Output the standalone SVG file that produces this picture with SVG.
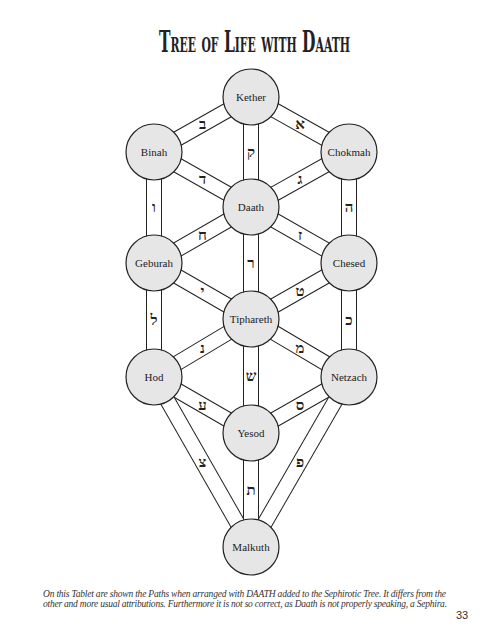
<svg xmlns="http://www.w3.org/2000/svg" xmlns:xlink="http://www.w3.org/1999/xlink" width="495" height="640" viewBox="0 0 495 640">
<style>
.o{stroke:#222;stroke-width:16;fill:none}
.f{stroke:#fff;stroke-width:14;fill:none}
.node circle{fill:#e6e6e6;stroke:#222;stroke-width:1.2}
.node text{font-family:"Liberation Serif","DejaVu Serif",serif;font-size:11px;fill:#222;text-anchor:middle}
.heb{font-family:"Liberation Serif","DejaVu Sans",serif;font-size:15px;font-weight:bold;fill:#222;text-anchor:middle}
.title{font-family:"DejaVu Serif Condensed","DejaVu Serif",serif;font-weight:bold;font-size:30px;font-variant:small-caps;fill:#222}
.note{font-family:"Liberation Serif","DejaVu Serif",serif;font-style:italic;font-size:9.5px;fill:#333}
.pg{font-family:"Liberation Sans","DejaVu Sans",sans-serif;font-size:11px;fill:#333}
</style>
<defs>
<line id="p1" x1="251" y1="97" x2="154" y2="152"/>
<line id="p2" x1="251" y1="97" x2="349" y2="152"/>
<line id="p3" x1="251" y1="97" x2="251" y2="207"/>
<line id="p4" x1="154" y1="152" x2="251" y2="207"/>
<line id="p5" x1="349" y1="152" x2="251" y2="207"/>
<line id="p6" x1="154" y1="152" x2="154" y2="263"/>
<line id="p7" x1="349" y1="152" x2="349" y2="263"/>
<line id="p8" x1="251" y1="207" x2="154" y2="263"/>
<line id="p9" x1="251" y1="207" x2="349" y2="263"/>
<line id="p10" x1="251" y1="207" x2="251" y2="319"/>
<line id="p11" x1="154" y1="263" x2="251" y2="319"/>
<line id="p12" x1="349" y1="263" x2="251" y2="319"/>
<line id="p13" x1="154" y1="263" x2="154" y2="377"/>
<line id="p14" x1="349" y1="263" x2="349" y2="377"/>
<line id="p15" x1="251" y1="319" x2="154" y2="377"/>
<line id="p16" x1="251" y1="319" x2="349" y2="377"/>
<line id="p17" x1="251" y1="319" x2="251" y2="433"/>
<line id="p18" x1="154" y1="377" x2="251" y2="433"/>
<line id="p19" x1="349" y1="377" x2="251" y2="433"/>
<line id="p20" x1="154" y1="377" x2="251" y2="547"/>
<line id="p21" x1="349" y1="377" x2="251" y2="547"/>
<line id="p22" x1="251" y1="433" x2="251" y2="547"/>
</defs>
<rect width="495" height="640" fill="#fff"/>
<text class="title" x="159" y="52" textLength="191" lengthAdjust="spacingAndGlyphs">Tree of Life with Daath</text>
<g id="connectors">
<g class="o">
<use xlink:href="#p1"/><use xlink:href="#p2"/><use xlink:href="#p3"/><use xlink:href="#p4"/><use xlink:href="#p5"/><use xlink:href="#p6"/><use xlink:href="#p7"/><use xlink:href="#p8"/><use xlink:href="#p9"/><use xlink:href="#p10"/><use xlink:href="#p11"/><use xlink:href="#p12"/><use xlink:href="#p13"/><use xlink:href="#p14"/><use xlink:href="#p15"/><use xlink:href="#p16"/><use xlink:href="#p17"/><use xlink:href="#p18"/><use xlink:href="#p19"/><use xlink:href="#p20"/><use xlink:href="#p21"/><use xlink:href="#p22"/>
</g>
<g class="f">
<use xlink:href="#p1"/><use xlink:href="#p2"/><use xlink:href="#p3"/><use xlink:href="#p4"/><use xlink:href="#p5"/><use xlink:href="#p6"/><use xlink:href="#p7"/><use xlink:href="#p8"/><use xlink:href="#p9"/><use xlink:href="#p10"/><use xlink:href="#p11"/><use xlink:href="#p12"/><use xlink:href="#p13"/><use xlink:href="#p14"/><use xlink:href="#p15"/><use xlink:href="#p16"/><use xlink:href="#p17"/><use xlink:href="#p18"/><use xlink:href="#p19"/><use xlink:href="#p20"/><use xlink:href="#p21"/><use xlink:href="#p22"/>
</g>
<g id="path-letters">
<text class="heb" x="202.5" y="129">ב</text>
<text class="heb" x="300" y="129">א</text>
<text class="heb" x="251" y="157">ק</text>
<text class="heb" x="202.5" y="184">ד</text>
<text class="heb" x="300" y="184">ג</text>
<text class="heb" x="154" y="212">ו</text>
<text class="heb" x="349" y="212">ה</text>
<text class="heb" x="202.5" y="240">ח</text>
<text class="heb" x="300" y="240">ז</text>
<text class="heb" x="251" y="268">ר</text>
<text class="heb" x="202.5" y="296">י</text>
<text class="heb" x="300" y="296">ט</text>
<text class="heb" x="154" y="325">ל</text>
<text class="heb" x="349" y="325">כ</text>
<text class="heb" x="202.5" y="353">נ</text>
<text class="heb" x="300" y="353">מ</text>
<text class="heb" x="251" y="381">ש</text>
<text class="heb" x="202.5" y="410">ע</text>
<text class="heb" x="300" y="410">ס</text>
<text class="heb" x="202.5" y="467">צ</text>
<text class="heb" x="300" y="467">פ</text>
<text class="heb" x="251" y="495">ת</text>
</g>
</g>
<g id="kether" class="node"><circle cx="251" cy="97" r="28"/><text x="251" y="101">Kether</text></g>
<g id="binah" class="node"><circle cx="154" cy="152" r="28"/><text x="154" y="156">Binah</text></g>
<g id="chokmah" class="node"><circle cx="349" cy="152" r="28"/><text x="349" y="156">Chokmah</text></g>
<g id="daath" class="node"><circle cx="251" cy="207" r="28"/><text x="251" y="211">Daath</text></g>
<g id="geburah" class="node"><circle cx="154" cy="263" r="28"/><text x="154" y="267">Geburah</text></g>
<g id="chesed" class="node"><circle cx="349" cy="263" r="28"/><text x="349" y="267">Chesed</text></g>
<g id="tiphareth" class="node"><circle cx="251" cy="319" r="28"/><text x="251" y="323">Tiphareth</text></g>
<g id="hod" class="node"><circle cx="154" cy="377" r="28"/><text x="154" y="381">Hod</text></g>
<g id="netzach" class="node"><circle cx="349" cy="377" r="28"/><text x="349" y="381">Netzach</text></g>
<g id="yesod" class="node"><circle cx="251" cy="433" r="28"/><text x="251" y="437">Yesod</text></g>
<g id="malkuth" class="node"><circle cx="251" cy="547" r="28"/><text x="251" y="551">Malkuth</text></g>
<text class="note" x="43" y="597" textLength="403" lengthAdjust="spacing">On this Tablet are shown the Paths when arranged with DAATH added to the Sephirotic Tree. It differs from the</text>
<text class="note" x="43" y="607" textLength="404" lengthAdjust="spacing">other and more usual attributions. Furthermore it is not so correct, as Daath is not properly speaking, a Sephira.</text>
<text class="pg" x="456" y="619">33</text>
</svg>
